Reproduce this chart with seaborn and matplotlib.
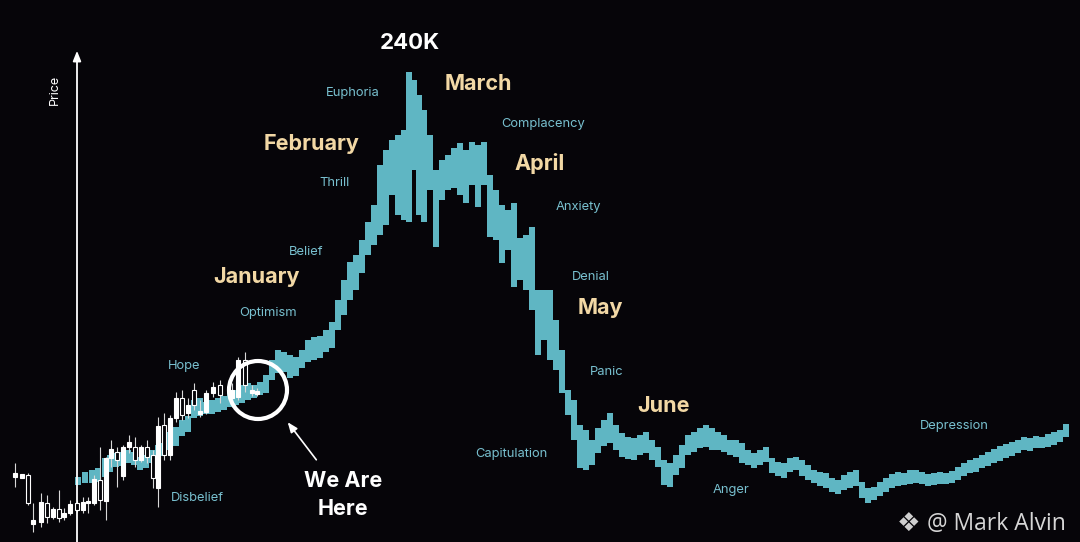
import matplotlib
matplotlib.use("Agg")
import matplotlib.pyplot as plt
from matplotlib.patches import Ellipse
import numpy as np
import seaborn as sns

# teal price band (day, high, low) in K
teal_day = [78, 85, 92, 98, 105, 110, 116, 122, 128, 134, 140, 146, 152, 158, 164, 170, 176, 182, 188, 194,
            200, 206, 212, 218, 224, 230, 236, 242, 248, 254, 260, 266, 272, 278, 284, 290, 296, 302, 308, 314,
            320, 326, 332, 338, 344, 350, 356, 362, 368, 374, 380, 386, 392, 398, 404, 409, 414, 419, 424, 430,
            436, 442, 448, 454, 460, 466, 472, 478, 484, 490, 496, 502, 508, 514, 520, 526, 532, 538, 544, 550,
            556, 562, 568, 574, 580, 586, 592, 598, 604, 610, 616, 622, 628, 634, 640, 646, 652, 658, 664, 670,
            676, 682, 688, 694, 700, 706, 712, 718, 724, 730, 736, 742, 748, 754, 760, 766, 772, 778, 784, 790,
            796, 802, 808, 814, 820, 826, 832, 838, 844, 850, 856, 862, 868, 874, 880, 886, 892, 898, 904, 910,
            916, 922, 928, 934, 940, 946, 952, 958, 964, 970, 976, 982, 988, 994, 1000, 1006, 1012, 1018, 1024, 1030,
            1036, 1042, 1048, 1054, 1060, 1066]
teal_hi = [36.5, 39, 40, 41, 46, 47.5, 48.5, 49, 50, 49, 46.5, 47.5, 50, 52.5, 53.5, 59, 61.5, 65, 67, 75,
           76, 74, 75, 76, 77, 78.5, 80, 82.5, 83.5, 82.5, 84, 87.5, 95, 100, 99, 97.5, 96.5, 100, 105, 106.5,
           107, 110, 114, 125, 135, 144, 147.5, 155, 164, 172.5, 192.5, 200, 205, 207.5, 210, 239, 235, 227.5, 220, 207.5,
           190, 195, 197.5, 201, 203.5, 200, 204, 202.5, 204, 187.5, 180, 172.5, 170, 173.5, 156, 157.5, 161.5, 130, 130, 130,
           115, 100, 80, 75, 62.5, 60, 55, 61, 65, 68.5, 62.5, 58.5, 56.5, 56, 57.5, 59, 55, 51.5, 45, 43.5,
           47.5, 52.5, 57.5, 59, 61, 62.5, 61, 59, 57.5, 55, 55, 53.5, 50, 48.5, 50, 51.5, 46, 44, 43.5, 46,
           46.5, 45, 42.5, 40, 39, 38.5, 36, 35, 37.5, 39, 40, 34, 31, 31.5, 34, 36, 38, 39, 38.5, 40,
           40, 39, 38, 38.5, 39, 38.5, 39.5, 41.5, 43.5, 45, 46, 47.5, 49, 50.5, 52, 53, 54, 55, 56.5, 56,
           57, 56.5, 58, 59, 60, 63]
teal_lo = [32.5, 33.5, 33.5, 34, 36.5, 39, 41.5, 42, 43.5, 42.5, 40, 41, 43.5, 46, 47, 50, 52, 57, 59, 66,
           67, 68, 68, 69, 70, 71.5, 72.5, 73.5, 75, 76, 77.5, 78.5, 85, 88.5, 89, 86, 87, 91, 94, 95,
           96, 99, 101, 110, 117.5, 125, 130, 138.5, 147.5, 152.5, 157.5, 162.5, 177.5, 167.5, 165, 164, 190, 167.5, 164, 180,
           151.5, 175, 180, 181, 177.5, 173.5, 182.5, 171.5, 182.5, 156.5, 155, 143.5, 150, 131.5, 135, 130, 120, 97.5, 105, 95,
           90, 78.5, 67.5, 55, 41, 40, 42.5, 48.5, 52, 53.5, 50, 46.5, 45.5, 45, 47.5, 48.5, 45, 41.5, 32.5, 31.5,
           37.5, 41, 47.5, 49, 51, 51.5, 50, 50, 49, 47.5, 46.5, 43.5, 42.5, 41, 42.5, 44, 38.5, 37, 36, 39,
           40, 37, 35, 33.5, 32, 31, 29, 28, 30, 31, 32, 26, 23.5, 25, 27, 29, 31, 32, 32.5, 33,
           33.5, 33, 32, 32.5, 33, 33, 33.5, 35, 37, 38.5, 39, 41, 42, 43.5, 44.5, 46, 47, 48.5, 50, 49.5,
           51, 51, 51.5, 52.5, 54, 56.5]

# white candles (day, body top, body bottom, wick high, wick low, filled)
candle_day = [15, 22, 28, 33, 41, 47, 53, 59, 64, 70, 77, 83, 88, 94, 100, 106, 111, 117, 123, 129,
              135, 141, 147, 153, 158, 164, 170, 176, 182, 188, 194, 200, 206, 213, 220, 232, 238, 245, 252, 257]
candle_top = [38.5, 38, 37.5, 15, 24, 23.5, 20.5, 20.5, 18.5, 23, 23.5, 24, 24.5, 35.5, 35, 46, 50.5, 49, 51.5, 54,
              51.5, 51.5, 51.5, 47.5, 62, 62.5, 66, 76, 76, 72.5, 80, 69.5, 78.5, 81.5, 82.5, 80, 95, 95, 80, 79.5]
candle_bot = [36.5, 36, 23.5, 13, 14, 16.5, 16.5, 16, 16.5, 18.5, 20, 20, 23.5, 23.5, 25, 24.5, 46, 45, 37, 51.5,
              45, 45, 46.5, 36, 31, 47.5, 47.5, 66, 67.5, 68.5, 72.5, 68, 69, 78.5, 77.5, 76, 76.5, 82.5, 78.5, 78]
candle_high = [43.5, 38, 38.5, 23.5, 28.5, 27.5, 21.5, 30, 21, 25, 25, 26.5, 26.5, 37.5, 51.5, 46.5, 55, 51.5, 52.5, 57.5,
               56.5, 52.5, 55, 50, 66.5, 68.5, 67.5, 79, 80, 76, 83.5, 75, 80, 84, 85, 83.5, 96.5, 99, 82.5, 81]
candle_low = [31.5, 36, 22.5, 9, 11.5, 13.5, 15.5, 14, 15, 17.5, 19, 18.5, 18.5, 22.5, 20, 15, 41.5, 31.5, 35, 48.5,
              41.5, 44, 43.5, 31, 21.5, 45, 45, 64, 65, 66, 70, 66.5, 68, 76.5, 73.5, 71.5, 75, 79, 77, 77]
candle_filled = [1, 1, 0, 1, 1, 0, 1, 0, 1, 1, 0, 1, 1, 1, 0, 1, 1, 0, 1, 1,
                 0, 1, 0, 0, 1, 0, 1, 1, 0, 1, 0, 1, 1, 1, 0, 1, 1, 0, 1, 1]

# month markers and emotional phases (text, day, price)
months = [("January", 256, 136.5), ("February", 312, 203), ("March", 478, 233),
          ("April", 540, 193), ("May", 600, 121), ("June", 664, 72)]
phases = [("Disbelief", 197, 26), ("Hope", 184, 92), ("Optimism", 268, 118.5), ("Belief", 306, 149),
          ("Thrill", 334, 183.5), ("Euphoria", 353, 228.5), ("Complacency", 543, 213),
          ("Anxiety", 578, 171.5), ("Denial", 591, 136.5), ("Panic", 607, 89),
          ("Capitulation", 511, 48), ("Anger", 731, 30), ("Depression", 954, 62)]
peak_label = "240K"

BG = "#060509"
TEAL = "#5fb6c3"
PHASE = "#78c0cf"
CREAM = "#f2d8a5"

sns.set_theme(style="dark", rc={"axes.facecolor": BG, "figure.facecolor": BG})
plt.rcParams["font.family"] = ["Inter", "DejaVu Sans"]

fig = plt.figure(figsize=(10.8, 5.42), dpi=100)
ax = fig.add_axes([0, 0, 1, 1])
ax.set_xlim(0, 1080)
ax.set_ylim(4, 275)
ax.axis("off")

# teal candles
hi = np.array(teal_hi)
lo = np.array(teal_lo)
ax.bar(teal_day, hi - lo, bottom=lo, width=6.3, color=TEAL, linewidth=0, zorder=2)

# white candles
cd = np.array(candle_day)
ax.vlines(cd, candle_low, candle_high, color="#d8d8d8", lw=0.8, zorder=3)
for d, t, b, f in zip(candle_day, candle_top, candle_bot, candle_filled):
    ax.bar(d, max(t - b, 1.2), bottom=b, width=3.6,
           color="white" if f else BG, edgecolor="white", linewidth=0.8, zorder=4)

# price axis
ax.annotate("", xy=(77, 251), xytext=(77, 0),
            arrowprops=dict(arrowstyle="-|>,head_length=0.5,head_width=0.2", color="white", lw=1.3))
ax.text(55, 230, "Price", color="white", fontsize=9, rotation=90, ha="center", va="center")

for name, d, p in months:
    ax.text(d, p, name, color=CREAM, fontsize=15.5, fontweight="bold", ha="center", va="center")
for name, d, p in phases:
    ax.text(d, p, name, color=PHASE, fontsize=9.3, ha="center", va="center")

ax.text(410, 253.5, peak_label, color="white", fontsize=16, fontweight="bold", ha="center", va="center")

# we are here
ax.add_patch(Ellipse((258, 80), 58, 29, fill=False, edgecolor="white", lw=3, zorder=6))
ax.annotate("", xy=(286, 65), xytext=(318, 44),
            arrowprops=dict(arrowstyle="-|>,head_length=0.5,head_width=0.2", color="white", lw=1.2))
ax.text(343, 27.5, "We Are\nHere", color="white", fontsize=15.5, fontweight="bold",
        ha="center", va="center", linespacing=1.45)

# watermark
ax.text(909, 13, "\u2756", color="#cfcfcf", fontsize=19, ha="center", va="center", family="DejaVu Sans")
ax.text(927, 13, "@ Mark Alvin", color="#d6d6d6", fontsize=16.5, ha="left", va="center", family="Open Sans")

fig.savefig("out.png", dpi=100, facecolor=BG)
